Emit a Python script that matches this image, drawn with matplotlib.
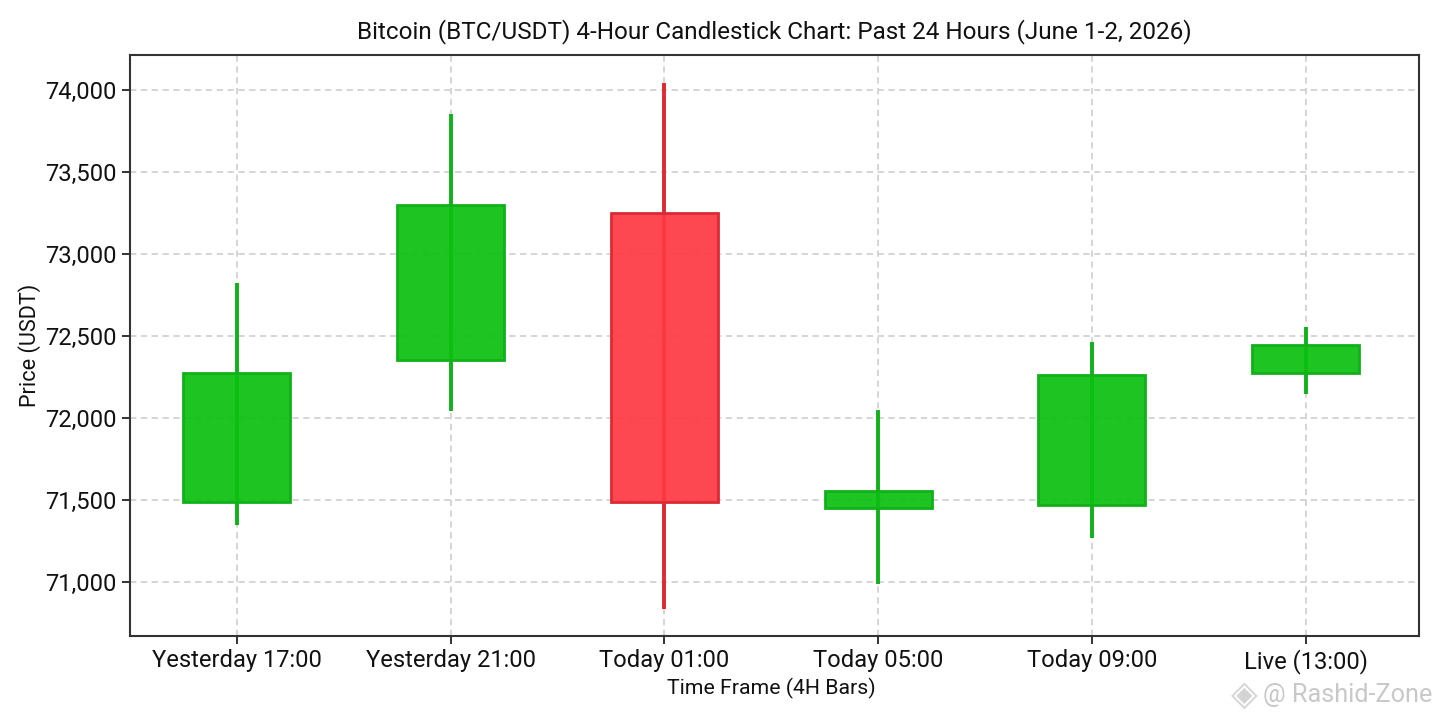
import matplotlib
matplotlib.use("Agg")
from matplotlib import pyplot as plt
from matplotlib.colors import to_rgba
from matplotlib.patches import Rectangle

labels = ["Yesterday 17:00", "Yesterday 21:00", "Today 01:00", "Today 05:00", "Today 09:00", "Live (13:00)"]
opens = [71488, 72354, 73250, 71451, 71470, 72274]
closes = [72274, 73299, 71488, 71555, 72262, 72445]
highs = [72823, 73854, 74043, 72049, 72463, 72555]
lows = [71348, 72043, 70835, 70988, 71268, 72146]
yticks = [71000, 71500, 72000, 72500, 73000, 73500, 74000]

GREEN = "#0cc011"
GREEN_DARK = "#12b01b"
RED = "#fd3a44"
RED_DARK = "#dc2a34"

plt.rcParams["font.family"] = ["Roboto", "DejaVu Sans"]

fig = plt.figure(figsize=(14.4, 7.2), dpi=100)
ax = fig.add_axes([130/1440, 1-636/720, (1419-130)/1440, (636-55)/720])

for i in range(len(labels)):
    up = closes[i] >= opens[i]
    face = GREEN if up else RED
    edge = GREEN_DARK if up else RED_DARK
    bottom = min(opens[i], closes[i])
    height = abs(closes[i] - opens[i])
    # wick goes under a slightly see-through body
    ax.plot([i, i], [lows[i], highs[i]], color=edge, linewidth=2.8, solid_capstyle="butt", zorder=2)
    ax.add_patch(Rectangle((i - 0.25, bottom), 0.5, height, facecolor=to_rgba(face, 0.93), edgecolor=edge, linewidth=2, zorder=3))

ax.set_xlim(-0.5, 5.53)
ax.set_ylim(70671, 74213)
ax.set_xticks(range(len(labels)))
ax.set_xticklabels(labels)
ax.set_yticks(yticks)
ax.set_yticklabels([f"{v:,}" for v in yticks])
ax.tick_params(axis="both", labelsize=17.1, length=6, width=1.2, colors="#111111")
ax.grid(True, color="#d2d2d2", linestyle=(0, (3.5, 2.5)), linewidth=1.3, zorder=0)
ax.set_axisbelow(True)
for s in ax.spines.values():
    s.set_linewidth(1.5)
    s.set_color("#333333")

ax.set_title("Bitcoin (BTC/USDT) 4-Hour Candlestick Chart: Past 24 Hours (June 1-2, 2026)", fontsize=17.5, color="#111111", pad=12)
ax.set_xlabel("Time Frame (4H Bars)", fontsize=15.3, color="#111111", labelpad=3, x=0.4975)
ax.set_ylabel("Price (USDT)", fontsize=15.6, color="#111111", labelpad=3)

# watermark
fig.text(1432/1440, 1-695/720, "@ Rashid-Zone", ha="right", va="center", fontsize=18.2, color="#c8c8c8")
fig.text(1244/1440, 1-695/720, "\u25c8", ha="center", va="center", fontsize=25, color="#d4d4d4")

fig.savefig("out.png", dpi=100)
